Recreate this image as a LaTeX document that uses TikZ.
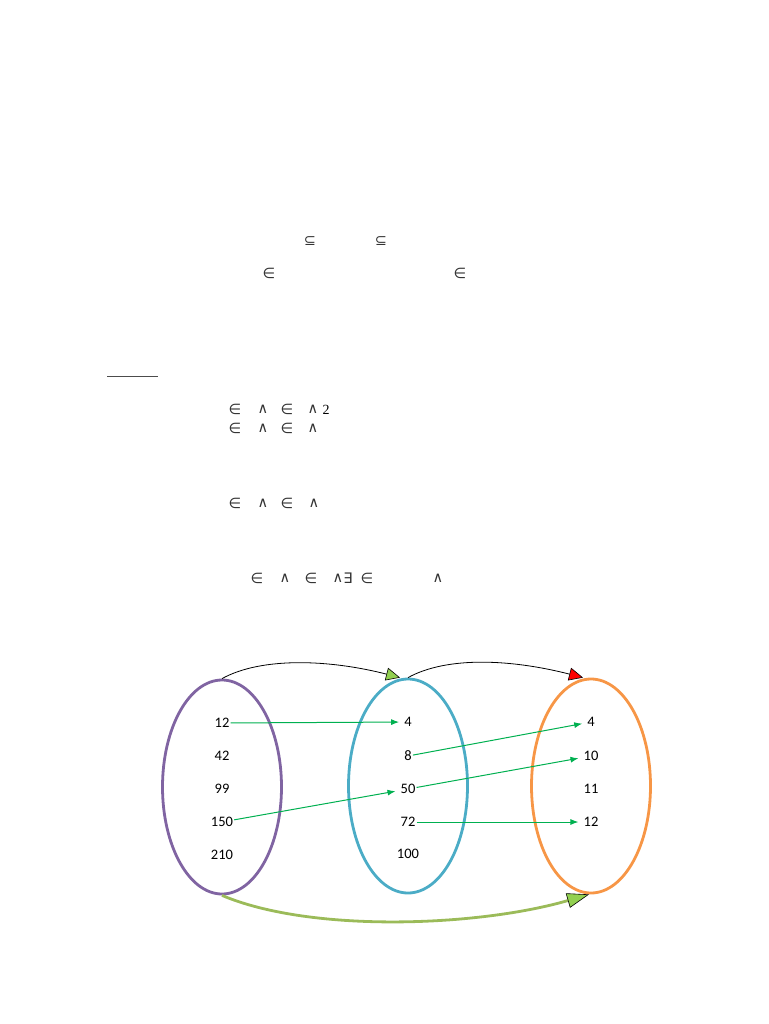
\documentclass[tikz,border=0pt]{standalone}
\usepackage{fontspec}
\setmainfont{Carlito}
\newfontfamily\symfont{DejaVu Sans}
\newfontfamily\timesfont{Liberation Serif}
\usetikzlibrary{arrows.meta,shapes.geometric}
\definecolor{setpurple}{HTML}{8064A2}
\definecolor{setblue}{HTML}{4BACC6}
\definecolor{setorange}{HTML}{F79646}
\definecolor{mapgreen}{HTML}{00B050}
\definecolor{olivegreen}{HTML}{9BBB59}
\definecolor{tipgreen}{HTML}{92D050}

\begin{document}
\begin{tikzpicture}[x=1pt,y=-1pt,>={Latex[length=8pt,width=6pt]},shorten >=4pt]
	\tikzstyle{set}=[ellipse, draw, line width=2.8pt, minimum width=119pt, minimum height=214pt]
	\tikzstyle{num}=[inner sep=1pt, font=\fontsize{14.5}{17}\selectfont]
	\tikzstyle{sym}=[inner sep=0pt, font=\symfont\fontsize{14.5}{17}\selectfont, text=black!80]
	\tikzstyle{every edge}=[draw=mapgreen, line width=1pt, ->]
	\useasboundingbox (0,0) rectangle (768,1024);
	
	% symbols of the text lines
	\node[sym] (t1) at (310,241) {⊆};
	\node[sym] (t2) at (381,241) {⊆};
	\node[sym] (t3) at (269,273) {∈};
	\node[sym] (t4) at (460,273) {∈};
	\draw[black!70, line width=1pt] (107,376) -- (162,376);
	\foreach \x/\s [count=\i] in {235/∈,263/∧,287/∈,313/∧}
		\node[sym] (a\i) at (\x,409) {\s};
	\node[anchor=base, inner sep=0pt, font=\timesfont\fontsize{14}{16}\selectfont] (a5) at (326,414) {2};
	\foreach \x/\s [count=\i] in {235/∈,263/∧,287/∈,313/∧}
		\node[sym] (b\i) at (\x,428) {\s};
	\foreach \x/\s [count=\i] in {235/∈,263/∧,287/∈,314/∧}
		\node[sym] (c\i) at (\x,503) {\s};
	\foreach \x/\s [count=\i] in {257/∈,285/∧,311/∈,338/∧,348/∃,367/∈,438/∧}
		\node[sym] (d\i) at (\x,578) {\s};
	
	% the three sets
	\node[set, draw=setpurple] (P) at (222,787) {};
	\node[set, draw=setblue]   (B) at (408,786) {};
	\node[set, draw=setorange] (O) at (591,786) {};
	
	\node[num] (p12)  at (222,723) {12};
	\node[num] (p42)  at (222,756) {42};
	\node[num] (p99)  at (222,789) {99};
	\node[num] (p150) at (222,822) {150};
	\node[num] (p210) at (222,855) {210};
	
	\node[num] (b4)   at (408,722) {4};
	\node[num] (b8)   at (408,756) {8};
	\node[num] (b50)  at (408,789) {50};
	\node[num] (b72)  at (408,822) {72};
	\node[num] (b100) at (408,854) {100};
	
	\node[num] (o4)   at (591,722) {4};
	\node[num] (o10)  at (591,756) {10};
	\node[num] (o11)  at (591,789) {11};
	\node[num] (o12)  at (591,822) {12};
	
	\path (p12) edge (b4);
	\path (b8) edge (o4);
	\path (p150) edge (b50);
	\path (b50) edge (o10);
	\path (b72) edge (o12);
	
	% mappings between the sets
	\draw[black, line width=0.8pt, shorten >=0pt, -{Triangle[length=14pt,width=13pt,color=black,fill=tipgreen,line width=0.6pt]}]
		(P.north) .. controls +(40,-22) and +(-70,-18) .. ([xshift=-8pt]B.north);
	\draw[black, line width=0.8pt, shorten >=0pt, -{Triangle[length=14pt,width=13pt,color=black,fill=red,line width=0.6pt]}]
		(B.north) .. controls +(40,-22) and +(-70,-18) .. ([xshift=-8pt]O.north);
	\draw[olivegreen, line width=2.8pt, shorten >=0pt, -{Triangle[length=22pt,width=15pt,color=black,fill=tipgreen,line width=0.6pt]}]
		(P.south) .. controls +(90,38) and +(-110,32) .. ([xshift=-2pt]O.south);
	
\end{tikzpicture}
\end{document}
